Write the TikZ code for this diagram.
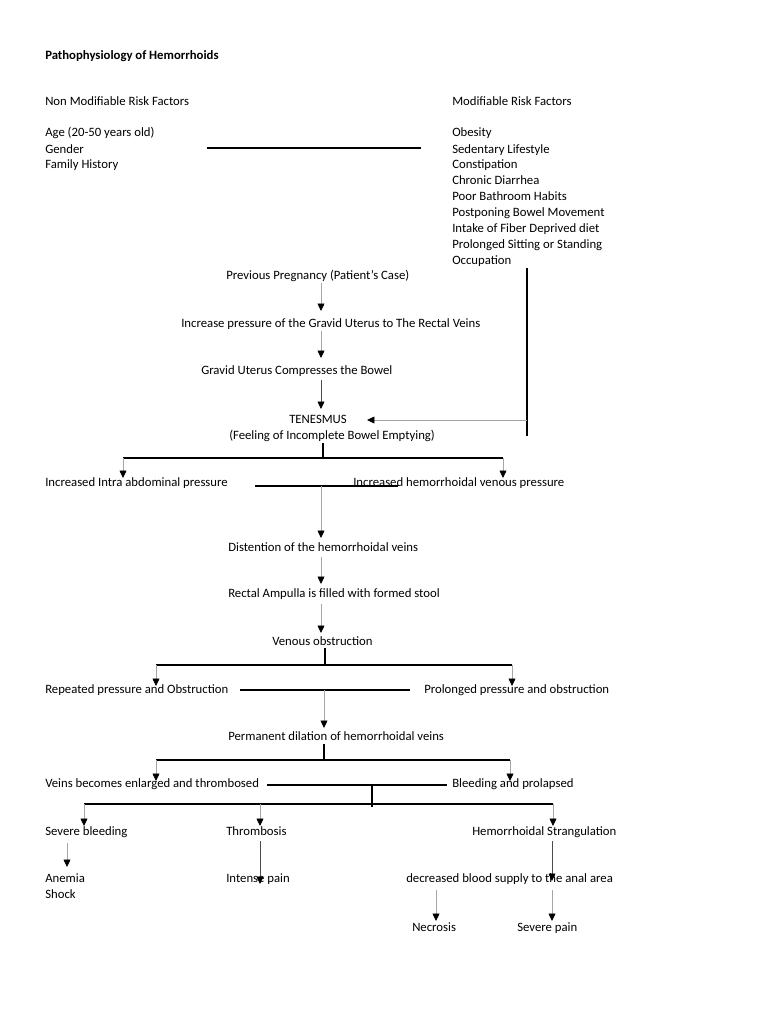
\documentclass[tikz,border=0pt]{standalone}
\usepackage{fontspec}
\setmainfont{Carlito}
\usetikzlibrary{arrows.meta}
\begin{document}
\begin{tikzpicture}[x=0.75pt,y=-0.75pt,
  txt/.style={anchor=base west,inner sep=0pt,font=\fontsize{9.55}{12}\selectfont},
  ttl/.style={anchor=base west,inner sep=0pt,font=\fontsize{9.55}{12}\selectfont\bfseries},
  bl/.style={draw=black,line width=0.8pt},
  garr/.style={draw=black!35,line width=0.6pt,-{Triangle[width=5.2pt,length=5.6pt,color=black]}},
  darr/.style={draw=black!70,line width=0.6pt,-{Triangle[width=5.2pt,length=5.6pt,color=black]}}]
\useasboundingbox (0,0) rectangle (768,1024);
\fill[white] (0,0) rectangle (768,1024);
% texts
\node[ttl] (title) at (45,60) {Pathophysiology of Hemorrhoids};
\node[txt] (nonmod) at (45,105) {Non Modifiable Risk Factors};
\node[txt] (mod) at (452,105) {Modifiable Risk Factors};
\node[txt] (age) at (45,137) {Age (20-50 years old)};
\node[txt] (gender) at (45,153) {Gender};
\node[txt] (family) at (45,168) {Family History};
\node[txt] (m1) at (452,137) {Obesity};
\node[txt] (m2) at (452,153) {Sedentary Lifestyle};
\node[txt] (m3) at (452,168) {Constipation};
\node[txt] (m4) at (452,184) {Chronic Diarrhea};
\node[txt] (m5) at (452,200) {Poor Bathroom Habits};
\node[txt] (m6) at (452,216) {Postponing Bowel Movement};
\node[txt] (m7) at (452,232) {Intake of Fiber Deprived diet};
\node[txt] (m8) at (452,248) {Prolonged Sitting or Standing};
\node[txt] (m9) at (452,264) {Occupation};
\node[txt] (prev) at (226,279) {Previous Pregnancy (Patient’s Case)};
\node[txt] (incr) at (181,327) {Increase pressure of the Gravid Uterus to The Rectal Veins};
\node[txt] (grav) at (201,374) {Gravid Uterus Compresses the Bowel};
\node[txt] (tenes) at (289,423) {TENESMUS};
\node[txt] (feel) at (229,439) {(Feeling of Incomplete Bowel Emptying)};
\node[txt] (iiap) at (45,486) {Increased Intra abdominal pressure};
\node[txt] (ihvp) at (353,486) {Increased hemorrhoidal venous pressure};
\node[txt] (dist) at (228,551) {Distention of the hemorrhoidal veins};
\node[txt] (ramp) at (228,597) {Rectal Ampulla is filled with formed stool};
\node[txt] (ven) at (272,645) {Venous obstruction};
\node[txt] (rep) at (45,693) {Repeated pressure and Obstruction};
\node[txt] (prol) at (424,693) {Prolonged pressure and obstruction};
\node[txt] (perm) at (228,740) {Permanent dilation of hemorrhoidal veins};
\node[txt] (veins) at (45,787) {Veins becomes enlarged and thrombosed};
\node[txt] (bleedp) at (452,787) {Bleeding and prolapsed};
\node[txt] (sevb) at (45,835) {Severe bleeding};
\node[txt] (thromb) at (226,835) {Thrombosis};
\node[txt] (strang) at (472,835) {Hemorrhoidal Strangulation};
\node[txt] (anemia) at (45,882) {Anemia};
\node[txt] (shock) at (45,898) {Shock};
\node[txt] (intense) at (226,882) {Intense pain};
\node[txt] (decr) at (406,882) {decreased blood supply to the anal area};
\node[txt] (necro) at (412,931) {Necrosis};
\node[txt] (sevp) at (517,931) {Severe pain};
% coordinates
\coordinate (t1) at (207,148); \coordinate (t2) at (421,148);
\coordinate (r1) at (527,268); \coordinate (r2) at (527,436); \coordinate (r3) at (527,420);
\coordinate (rt) at (367,420);
\coordinate (a1s) at (321,283); \coordinate (a1e) at (321,311);
\coordinate (a2s) at (321,331); \coordinate (a2e) at (321,358);
\coordinate (a3s) at (321,380); \coordinate (a3e) at (321,409);
\coordinate (f1) at (323,443); \coordinate (b1) at (323,458);
\coordinate (b1l) at (123,458); \coordinate (b1r) at (503,458);
\coordinate (b1le) at (123,478); \coordinate (b1re) at (503,478);
\coordinate (h1a) at (255,486); \coordinate (h1b) at (398,486);
\coordinate (h1c) at (321,486); \coordinate (h1e) at (321,538);
\coordinate (a4s) at (321,557); \coordinate (a4e) at (321,584);
\coordinate (a5s) at (321,604); \coordinate (a5e) at (321,633);
\coordinate (v1) at (325,648); \coordinate (b2) at (325,665);
\coordinate (b2l) at (156,665); \coordinate (b2r) at (512,665);
\coordinate (b2le) at (156,686); \coordinate (b2re) at (512,686);
\coordinate (h2a) at (240,690); \coordinate (h2b) at (410,690);
\coordinate (h2c) at (324,690); \coordinate (h2e) at (324,728);
\coordinate (p1) at (324,744); \coordinate (b3) at (324,760);
\coordinate (b3l) at (156,760); \coordinate (b3r) at (510,760);
\coordinate (b3le) at (156,781); \coordinate (b3re) at (510,781);
\coordinate (h3a) at (267,785); \coordinate (h3b) at (447,785);
\coordinate (h3c) at (372,785); \coordinate (h3d) at (372,807);
\coordinate (b4l) at (84,804); \coordinate (b4m) at (260,804); \coordinate (b4r) at (553,804);
\coordinate (b4le) at (84,826); \coordinate (b4me) at (260,826); \coordinate (b4re) at (553,826);
\coordinate (s1) at (67,843); \coordinate (s1e) at (67,867);
\coordinate (s2) at (260,841); \coordinate (s2e) at (260,884);
\coordinate (s3) at (552,841); \coordinate (s3e) at (552,881);
\coordinate (d1) at (436,890); \coordinate (d1e) at (436,921);
\coordinate (d2) at (552,890); \coordinate (d2e) at (552,921);
% connectors
\draw[bl] (t1) -- (t2);
\draw[bl] (r1) -- (r2);
\draw[garr] (r3) -- (rt);
\draw[garr] (a1s) -- (a1e);
\draw[garr] (a2s) -- (a2e);
\draw[darr] (a3s) -- (a3e);
\draw[bl] (f1) -- (b1);
\draw[bl] (b1l) -- (b1r);
\draw[garr] (b1l) -- (b1le);
\draw[garr] (b1r) -- (b1re);
\draw[bl] (h1a) -- (h1b);
\draw[garr] (h1c) -- (h1e);
\draw[garr] (a4s) -- (a4e);
\draw[garr] (a5s) -- (a5e);
\draw[bl] (v1) -- (b2);
\draw[bl] (b2l) -- (b2r);
\draw[garr] (b2l) -- (b2le);
\draw[garr] (b2r) -- (b2re);
\draw[bl] (h2a) -- (h2b);
\draw[garr] (h2c) -- (h2e);
\draw[bl] (p1) -- (b3);
\draw[bl] (b3l) -- (b3r);
\draw[garr] (b3l) -- (b3le);
\draw[garr] (b3r) -- (b3re);
\draw[bl] (h3a) -- (h3b);
\draw[bl] (h3c) -- (h3d);
\draw[bl] (b4l) -- (b4r);
\draw[garr] (b4l) -- (b4le);
\draw[garr] (b4m) -- (b4me);
\draw[garr] (b4r) -- (b4re);
\draw[garr] (s1) -- (s1e);
\draw[darr] (s2) -- (s2e);
\draw[darr] (s3) -- (s3e);
\draw[garr] (d1) -- (d1e);
\draw[garr] (d2) -- (d2e);
\end{tikzpicture}
\end{document}
